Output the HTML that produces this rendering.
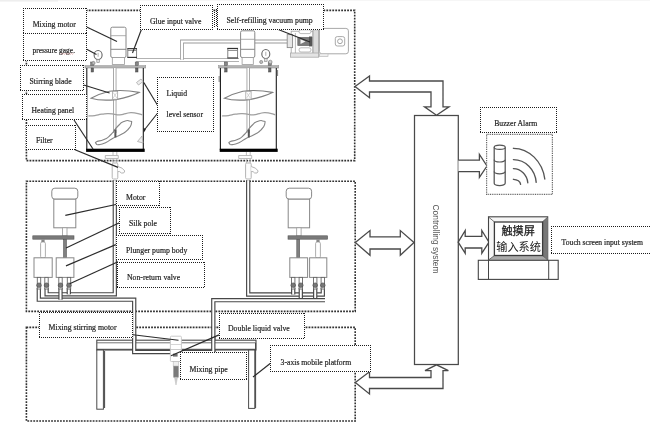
<!DOCTYPE html>
<html lang="en">
<head>
<meta charset="utf-8">
<title>Glue dispensing system diagram</title>
<style>
html,body{margin:0;padding:0;background:#fff;}
body{width:650px;height:425px;overflow:hidden;position:relative;}
svg{display:block;position:absolute;left:0;top:0;}
.ts{font-family:"Liberation Serif",serif;}
.tn{font-family:"Liberation Sans",sans-serif;}
.tc{font-family:"Liberation Sans","Noto Sans CJK SC",sans-serif;}
</style>
</head>
<body>
<svg width="650" height="425" viewBox="0 0 650 425">
<rect x="0" y="0" width="650" height="425" fill="#ffffff"/>
<defs><filter id="soft" x="-2%" y="-2%" width="104%" height="104%"><feGaussianBlur stdDeviation="0.55"/></filter></defs>
<g filter="url(#soft)">
<rect x="26.4" y="10.4" width="328.3" height="150.2" fill="none" stroke="#303030" stroke-width="1.6" stroke-dasharray="1.8 1.17"/>
<rect x="26.4" y="181.2" width="328.8" height="130.2" fill="none" stroke="#303030" stroke-width="1.6" stroke-dasharray="1.8 1.17"/>
<rect x="26.4" y="327.4" width="328.8" height="93.6" fill="none" stroke="#303030" stroke-width="1.6" stroke-dasharray="1.8 1.17"/>
<path d="M136 59.8 H239" fill="none" stroke="#999" stroke-width="3.8" stroke-linejoin="miter"/>
<path d="M136 59.8 H239" fill="none" stroke="#fff" stroke-width="2.2" stroke-linejoin="miter"/>
<path d="M182 59.8 V41.5 H287" fill="none" stroke="#999" stroke-width="3.8" stroke-linejoin="miter"/>
<path d="M182 59.8 V41.5 H287" fill="none" stroke="#fff" stroke-width="2.2" stroke-linejoin="miter"/>
<rect x="85.0" y="65.7" width="60.7" height="2.3" rx="0" fill="#b4b4b4" stroke="#969696" stroke-width="0.6" />
<rect x="90.7" y="62" width="3.2" height="3.4" rx="0" fill="#888" stroke="#555" stroke-width="0.5" />
<rect x="91.1" y="68" width="2.4" height="4" rx="0" fill="#666" stroke="#444" stroke-width="0.5" />
<rect x="135.20000000000002" y="62" width="3.2" height="3.4" rx="0" fill="#888" stroke="#555" stroke-width="0.5" />
<rect x="135.60000000000002" y="68" width="2.4" height="4" rx="0" fill="#666" stroke="#444" stroke-width="0.5" />
<line x1="86.8" y1="68" x2="86.8" y2="150" stroke="#1a1a1a" stroke-width="1.1" />
<line x1="143.3" y1="68" x2="143.3" y2="150" stroke="#1a1a1a" stroke-width="1.1" />
<rect x="86.1" y="148.7" width="58.6" height="3.2" rx="0" fill="#050505" stroke="none" stroke-width="1" />
<path d="M114.8 68 V133" fill="none" stroke="#a0a0a0" stroke-width="3.4" stroke-linejoin="miter"/>
<path d="M114.8 68 V133" fill="none" stroke="#fff" stroke-width="1.6" stroke-linejoin="miter"/>
<path d="M91.0 98.2 Q99.8 93.5 109.5 91.2 Q123.8 89.5 139.1 92.4 Q130.8 96.5 116.0 99.6 Q100.8 101.2 91.0 98.2 Z" fill="none" stroke="#808080" stroke-width="1.1" />
<rect x="112.39999999999999" y="91.3" width="5.3" height="7.9" rx="0" fill="#fff" stroke="#999" stroke-width="0.7" />
<path d="M113.2 92.5 L116.8 98 M116.8 92.5 L113.2 98" fill="none" stroke="#bbb" stroke-width="0.6" />
<path d="M88.30 116.00 C90.47 115.87 90.30 116.20 94.80 115.60 C99.30 115.00 97.13 114.87 101.80 114.20 C106.47 113.53 104.47 113.53 108.80 113.60 C113.13 113.67 111.13 113.97 114.80 114.40 C118.47 114.83 116.13 115.17 119.80 114.90 C123.47 114.63 122.13 114.33 125.80 113.60 C129.47 112.87 127.13 112.77 130.80 112.70 C134.47 112.63 132.97 112.70 136.80 113.40 C140.63 114.10 140.47 114.33 142.30 114.80" fill="none" stroke="#a0a0a0" stroke-width="1.25" />
<path d="M97.00 141.50 C99.60 140.13 99.33 141.83 104.00 139.50 C108.67 137.17 106.33 139.00 111.00 134.50 C115.67 130.00 113.67 130.30 118.00 126.00 C122.33 121.70 120.13 123.27 124.00 121.60 C127.87 119.93 127.13 120.33 129.60 121.00 C132.07 121.67 131.93 120.77 131.40 123.60 C130.87 126.43 131.47 125.83 128.00 129.50 C124.53 133.17 126.00 131.70 121.00 134.60 C116.00 137.50 118.00 135.60 113.00 138.20 C108.00 140.80 110.67 140.27 106.00 142.40 C101.33 144.53 102.27 144.20 99.00 144.60 C95.73 145.00 96.87 144.63 96.20 143.60 C95.53 142.57 94.40 142.87 97.00 141.50 Z" fill="none" stroke="#858585" stroke-width="1.1" />
<rect x="114.39999999999999" y="129.5" width="2.0" height="8.0" rx="0" fill="#555" stroke="none" stroke-width="1" />
<path d="M113.0 152 V163 M116.8 152 V163" fill="none" stroke="#b4b4b4" stroke-width="0.9" />
<path d="M105.3 155.5 H118.3 V158.5 H105.3 Z" fill="#fafafa" stroke="#b4b4b4" stroke-width="0.9" />
<rect x="112.2" y="163" width="5.6" height="16" rx="1.2" fill="#fdfdfd" stroke="#b4b4b4" stroke-width="1" />
<path d="M117.8 166.5 Q122.8 167.5 124.8 171 Q124.3 174 121.3 173 Q119.8 171 117.8 171.5" fill="#fdfdfd" stroke="#b4b4b4" stroke-width="1" />
<rect x="218.6" y="65.7" width="60.1" height="2.3" rx="0" fill="#b4b4b4" stroke="#969696" stroke-width="0.6" />
<rect x="224.3" y="62" width="3.2" height="3.4" rx="0" fill="#888" stroke="#555" stroke-width="0.5" />
<rect x="224.70000000000002" y="68" width="2.4" height="4" rx="0" fill="#666" stroke="#444" stroke-width="0.5" />
<rect x="268.2" y="62" width="3.2" height="3.4" rx="0" fill="#888" stroke="#555" stroke-width="0.5" />
<rect x="268.6" y="68" width="2.4" height="4" rx="0" fill="#666" stroke="#444" stroke-width="0.5" />
<line x1="220.4" y1="68" x2="220.4" y2="150" stroke="#1a1a1a" stroke-width="1.1" />
<line x1="276.3" y1="68" x2="276.3" y2="150" stroke="#1a1a1a" stroke-width="1.1" />
<rect x="219.70000000000002" y="148.7" width="58.0" height="3.2" rx="0" fill="#050505" stroke="none" stroke-width="1" />
<path d="M248.2 68 V133" fill="none" stroke="#a0a0a0" stroke-width="3.4" stroke-linejoin="miter"/>
<path d="M248.2 68 V133" fill="none" stroke="#fff" stroke-width="1.6" stroke-linejoin="miter"/>
<path d="M224.39999999999998 98.2 Q233.2 93.5 242.89999999999998 91.2 Q257.2 89.5 272.5 92.4 Q264.2 96.5 249.39999999999998 99.6 Q234.2 101.2 224.39999999999998 98.2 Z" fill="none" stroke="#808080" stroke-width="1.1" />
<rect x="245.79999999999998" y="91.3" width="5.3" height="7.9" rx="0" fill="#fff" stroke="#999" stroke-width="0.7" />
<path d="M246.6 92.5 L250.2 98 M250.2 92.5 L246.6 98" fill="none" stroke="#bbb" stroke-width="0.6" />
<path d="M221.90 116.00 C224.07 115.87 223.90 116.20 228.40 115.60 C232.90 115.00 230.73 114.87 235.40 114.20 C240.07 113.53 238.07 113.53 242.40 113.60 C246.73 113.67 244.73 113.97 248.40 114.40 C252.07 114.83 249.73 115.17 253.40 114.90 C257.07 114.63 255.73 114.33 259.40 113.60 C263.07 112.87 260.73 112.77 264.40 112.70 C268.07 112.63 266.77 112.70 270.40 113.40 C274.03 114.10 273.67 114.33 275.30 114.80" fill="none" stroke="#a0a0a0" stroke-width="1.25" />
<path d="M230.40 141.50 C233.00 140.13 232.73 141.83 237.40 139.50 C242.07 137.17 239.73 139.00 244.40 134.50 C249.07 130.00 247.07 130.30 251.40 126.00 C255.73 121.70 253.53 123.27 257.40 121.60 C261.27 119.93 260.53 120.33 263.00 121.00 C265.47 121.67 265.33 120.77 264.80 123.60 C264.27 126.43 264.87 125.83 261.40 129.50 C257.93 133.17 259.40 131.70 254.40 134.60 C249.40 137.50 251.40 135.60 246.40 138.20 C241.40 140.80 244.07 140.27 239.40 142.40 C234.73 144.53 235.67 144.20 232.40 144.60 C229.13 145.00 230.27 144.63 229.60 143.60 C228.93 142.57 227.80 142.87 230.40 141.50 Z" fill="none" stroke="#858585" stroke-width="1.1" />
<rect x="247.79999999999998" y="129.5" width="2.0" height="8.0" rx="0" fill="#555" stroke="none" stroke-width="1" />
<path d="M246.39999999999998 152 V163 M250.2 152 V163" fill="none" stroke="#b4b4b4" stroke-width="0.9" />
<path d="M238.7 155.5 H251.7 V158.5 H238.7 Z" fill="#fafafa" stroke="#b4b4b4" stroke-width="0.9" />
<rect x="245.6" y="163" width="5.6" height="16" rx="1.2" fill="#fdfdfd" stroke="#b4b4b4" stroke-width="1" />
<path d="M251.2 166.5 Q256.2 167.5 258.2 171 Q257.7 174 254.7 173 Q253.2 171 251.2 171.5" fill="#fdfdfd" stroke="#b4b4b4" stroke-width="1" />
<path d="M141 79 L143 81.5 L138.5 85 L136.5 82.5 Z" fill="#eee" stroke="#aaa" stroke-width="0.8" />
<path d="M142 136 L143 143 L137.5 141.5 Z" fill="#eee" stroke="#aaa" stroke-width="0.8" />
<path d="M143.5 127.5 L145.8 129.5 L143.5 133 Z" fill="#222" stroke="none" stroke-width="1" />
<path d="M219.2 76 V82" fill="none" stroke="#888" stroke-width="1.2" />
<path d="M277.5 70 V76" fill="none" stroke="#888" stroke-width="1.2" />
<rect x="110.8" y="27.2" width="15.2" height="30.3" rx="1.5" fill="#fff" stroke="#888" stroke-width="1" />
<line x1="110.8" y1="35.7" x2="126" y2="35.7" stroke="#999" stroke-width="0.8" />
<line x1="110.8" y1="49.3" x2="126" y2="49.3" stroke="#888" stroke-width="1" />
<rect x="112.3" y="57.5" width="12.2" height="7.0" rx="0" fill="#fff" stroke="#999" stroke-width="0.8" />
<rect x="240.6" y="30.8" width="14.2" height="26.7" rx="1.5" fill="#fff" stroke="#888" stroke-width="1" />
<line x1="240.6" y1="39.3" x2="254.8" y2="39.3" stroke="#999" stroke-width="0.8" />
<line x1="240.6" y1="49.3" x2="254.8" y2="49.3" stroke="#888" stroke-width="1" />
<rect x="242.1" y="57.5" width="11.2" height="7.0" rx="0" fill="#fff" stroke="#999" stroke-width="0.8" />
<rect x="127.8" y="48.6" width="8.8" height="8.8" rx="0" fill="#fff" stroke="#777" stroke-width="0.9" />
<line x1="127.4" y1="48.7" x2="137" y2="48.7" stroke="#333" stroke-width="1.1" />
<line x1="127.4" y1="57.4" x2="137" y2="57.4" stroke="#333" stroke-width="1.1" />
<line x1="127.8" y1="50.5" x2="136.6" y2="50.5" stroke="#777" stroke-width="0.8" />
<rect x="227.8" y="48.4" width="9.8" height="9.6" rx="0" fill="#fff" stroke="#777" stroke-width="0.9" />
<line x1="227.4" y1="48.5" x2="238" y2="48.5" stroke="#333" stroke-width="1.2" />
<line x1="227.4" y1="58" x2="238" y2="58" stroke="#444" stroke-width="1" />
<line x1="228" y1="50.5" x2="237.4" y2="50.5" stroke="#777" stroke-width="0.8" />
<ellipse cx="98.1" cy="55" rx="4" ry="4.5" fill="#fff" stroke="#666" stroke-width="1.1"/>
<line x1="98.1" y1="52.8" x2="98.1" y2="56.8" stroke="#999" stroke-width="0.8" />
<rect x="96.8" y="59.5" width="2.6" height="3.1" rx="0" fill="#ddd" stroke="#888" stroke-width="0.6" />
<circle cx="93.5" cy="63" r="1.6" fill="#bbb" stroke="#777" stroke-width="0.6"/>
<ellipse cx="265.8" cy="54" rx="4" ry="4.5" fill="#fff" stroke="#666" stroke-width="1.1"/>
<line x1="265.8" y1="51.8" x2="265.8" y2="55.8" stroke="#999" stroke-width="0.8" />
<rect x="264.5" y="58.5" width="2.6" height="3.1" rx="0" fill="#ddd" stroke="#888" stroke-width="0.6" />
<circle cx="261.2" cy="62" r="1.6" fill="#bbb" stroke="#777" stroke-width="0.6"/>
<circle cx="270.3" cy="62" r="1.8" fill="#ccc" stroke="#777" stroke-width="0.6"/>
<rect x="319.4" y="28.4" width="29.0" height="25.4" rx="2.5" fill="#fff" stroke="#a8a8a8" stroke-width="1" />
<rect x="335.3" y="36.6" width="9.4" height="9.4" rx="2" fill="#fff" stroke="#a0a0a0" stroke-width="0.9" />
<circle cx="340" cy="41.3" r="2.4" fill="none" stroke="#999" stroke-width="0.9"/>
<rect x="319.6" y="53.8" width="8.4" height="2.8" rx="0" fill="#eee" stroke="#bbb" stroke-width="0.7" />
<rect x="291.2" y="31.2" width="21.8" height="24.0" rx="0" fill="#fff" stroke="#aaa" stroke-width="0.9" />
<rect x="299" y="29.8" width="12" height="3.8" rx="1.9" fill="#fff" stroke="#aaa" stroke-width="0.8" />
<rect x="299" y="47.8" width="12" height="4.2" rx="2" fill="#fff" stroke="#aaa" stroke-width="0.8" />
<rect x="287.2" y="34.6" width="5.4" height="13.0" rx="0" fill="#e6e6e6" stroke="#8a8a8a" stroke-width="0.9" />
<line x1="295.4" y1="33" x2="295.4" y2="53" stroke="#aaa" stroke-width="0.8" />
<rect x="297.8" y="37.4" width="14.2" height="8.2" rx="0" fill="#7a7a7a" stroke="#666" stroke-width="0.7" />
<path d="M300.5 39.2 L305.5 41.5 L300.5 44 Z" fill="#f2f2f2" stroke="none" stroke-width="1" />
<rect x="309" y="36.5" width="3.2" height="9.9" rx="0" fill="#555" stroke="none" stroke-width="1" />
<rect x="313" y="29.8" width="5.7" height="26.8" rx="0" fill="#dcdcdc" stroke="#999" stroke-width="0.8" />
<rect x="290.5" y="53" width="28.2" height="4.2" rx="0" fill="#e4e4e4" stroke="#aaa" stroke-width="0.8" />
<path d="M114.8 180.3 V294.3 H46.6 V288" fill="none" stroke="#474747" stroke-width="4.3" stroke-linejoin="miter"/>
<path d="M114.8 180.3 V294.3 H46.6 V288" fill="none" stroke="#fff" stroke-width="2.0" stroke-linejoin="miter"/>
<path d="M68.8 288 V294.3" fill="none" stroke="#474747" stroke-width="4.3" stroke-linejoin="miter"/>
<path d="M68.8 288 V294.3" fill="none" stroke="#fff" stroke-width="2.0" stroke-linejoin="miter"/>
<path d="M38.8 288 V299.7 H134.2 V352.1" fill="none" stroke="#474747" stroke-width="4.3" stroke-linejoin="miter"/>
<path d="M38.8 288 V299.7 H134.2 V352.1" fill="none" stroke="#fff" stroke-width="2.0" stroke-linejoin="miter"/>
<path d="M60.5 288 V299.7" fill="none" stroke="#474747" stroke-width="4.3" stroke-linejoin="miter"/>
<path d="M60.5 288 V299.7" fill="none" stroke="#fff" stroke-width="2.0" stroke-linejoin="miter"/>
<path d="M248.2 180.3 V294.5 H322.8 V288" fill="none" stroke="#474747" stroke-width="4.3" stroke-linejoin="miter"/>
<path d="M248.2 180.3 V294.5 H322.8 V288" fill="none" stroke="#fff" stroke-width="2.0" stroke-linejoin="miter"/>
<path d="M293.2 288 V294.5" fill="none" stroke="#474747" stroke-width="4.3" stroke-linejoin="miter"/>
<path d="M293.2 288 V294.5" fill="none" stroke="#fff" stroke-width="2.0" stroke-linejoin="miter"/>
<path d="M300.8 288 V300.2" fill="none" stroke="#474747" stroke-width="4.3" stroke-linejoin="miter"/>
<path d="M300.8 288 V300.2" fill="none" stroke="#fff" stroke-width="2.0" stroke-linejoin="miter"/>
<path d="M315.2 288 V300.2" fill="none" stroke="#474747" stroke-width="4.3" stroke-linejoin="miter"/>
<path d="M315.2 288 V300.2" fill="none" stroke="#fff" stroke-width="2.0" stroke-linejoin="miter"/>
<path d="M325 300.2 H213.3 V352.1" fill="none" stroke="#474747" stroke-width="4.3" stroke-linejoin="miter"/>
<path d="M325 300.2 H213.3 V352.1" fill="none" stroke="#fff" stroke-width="2.0" stroke-linejoin="miter"/>
<rect x="51.8" y="188.2" width="26.0" height="11.0" rx="3" fill="#fff" stroke="#888" stroke-width="1" />
<rect x="53.8" y="199.2" width="22.0" height="28.6" rx="0" fill="#fff" stroke="#888" stroke-width="1" />
<rect x="62.599999999999994" y="227.79999999999998" width="4.4" height="8.2" rx="0" fill="#fff" stroke="#999" stroke-width="0.8" />
<rect x="32.8" y="235.8" width="41.2" height="3.4" rx="0" fill="#7a7a7a" stroke="#555" stroke-width="0.6" />
<rect x="63.6" y="239.4" width="2.8" height="18.6" rx="0" fill="#808080" stroke="#505050" stroke-width="0.6" />
<rect x="40.6" y="242" width="4.8" height="16" rx="1.5" fill="#fff" stroke="#999" stroke-width="0.8" />
<rect x="41.4" y="239.4" width="3.2" height="2.6" rx="0" fill="#888" stroke="none" stroke-width="1" />
<rect x="34" y="257.8" width="18.2" height="19.6" rx="0" fill="#fff" stroke="#888" stroke-width="1" />
<rect x="56.2" y="257.8" width="17.7" height="19.6" rx="0" fill="#fff" stroke="#888" stroke-width="1" />
<rect x="37.3" y="277.4" width="3.4" height="11.6" rx="0" fill="#fff" stroke="#666" stroke-width="0.9" />
<circle cx="39" cy="285.2" r="2.3" fill="#777" stroke="#444" stroke-width="0.6"/>
<rect x="44.8" y="277.4" width="3.4" height="11.6" rx="0" fill="#fff" stroke="#666" stroke-width="0.9" />
<circle cx="46.5" cy="285.2" r="2.3" fill="#777" stroke="#444" stroke-width="0.6"/>
<rect x="58.8" y="277.4" width="3.4" height="11.6" rx="0" fill="#fff" stroke="#666" stroke-width="0.9" />
<circle cx="60.5" cy="285.2" r="2.3" fill="#777" stroke="#444" stroke-width="0.6"/>
<rect x="67.3" y="277.4" width="3.4" height="11.6" rx="0" fill="#fff" stroke="#666" stroke-width="0.9" />
<circle cx="69" cy="285.2" r="2.3" fill="#777" stroke="#444" stroke-width="0.6"/>
<rect x="286.2" y="188.2" width="25.4" height="11.0" rx="3" fill="#fff" stroke="#888" stroke-width="1" />
<rect x="288.2" y="199.2" width="21.4" height="28.6" rx="0" fill="#fff" stroke="#888" stroke-width="1" />
<rect x="296.7" y="227.79999999999998" width="4.4" height="8.2" rx="0" fill="#fff" stroke="#999" stroke-width="0.8" />
<rect x="288" y="235.8" width="39.6" height="3.4" rx="0" fill="#7a7a7a" stroke="#555" stroke-width="0.6" />
<rect x="296.8" y="239.4" width="2.8" height="18.6" rx="0" fill="#808080" stroke="#505050" stroke-width="0.6" />
<rect x="315.6" y="242" width="4.8" height="16" rx="1.5" fill="#fff" stroke="#999" stroke-width="0.8" />
<rect x="316.4" y="239.4" width="3.2" height="2.6" rx="0" fill="#888" stroke="none" stroke-width="1" />
<rect x="289.8" y="257.8" width="17.8" height="19.6" rx="0" fill="#fff" stroke="#888" stroke-width="1" />
<rect x="309.6" y="257.8" width="17.2" height="19.6" rx="0" fill="#fff" stroke="#888" stroke-width="1" />
<rect x="291.5" y="277.4" width="3.4" height="11.6" rx="0" fill="#fff" stroke="#666" stroke-width="0.9" />
<circle cx="293.2" cy="285.2" r="2.3" fill="#777" stroke="#444" stroke-width="0.6"/>
<rect x="299.1" y="277.4" width="3.4" height="11.6" rx="0" fill="#fff" stroke="#666" stroke-width="0.9" />
<circle cx="300.8" cy="285.2" r="2.3" fill="#777" stroke="#444" stroke-width="0.6"/>
<rect x="313.5" y="277.4" width="3.4" height="11.6" rx="0" fill="#fff" stroke="#666" stroke-width="0.9" />
<circle cx="315.2" cy="285.2" r="2.3" fill="#777" stroke="#444" stroke-width="0.6"/>
<rect x="321.1" y="277.4" width="3.4" height="11.6" rx="0" fill="#fff" stroke="#666" stroke-width="0.9" />
<circle cx="322.8" cy="285.2" r="2.3" fill="#777" stroke="#444" stroke-width="0.6"/>
<rect x="96.8" y="340.2" width="159.2" height="9.8" rx="0" fill="#fff" stroke="#4a4a4a" stroke-width="1.1" />
<line x1="96.8" y1="342.8" x2="256" y2="342.8" stroke="#666" stroke-width="0.9" />
<line x1="96.8" y1="349.3" x2="256" y2="349.3" stroke="#444" stroke-width="1" />
<rect x="96.8" y="350" width="6.6" height="59.2" rx="0" fill="#fff" stroke="#4a4a4a" stroke-width="1" />
<line x1="104.6" y1="351" x2="104.6" y2="408" stroke="#444" stroke-width="1" />
<rect x="248.6" y="350" width="6.2" height="58.4" rx="0" fill="#fff" stroke="#4a4a4a" stroke-width="1" />
<line x1="255.6" y1="343" x2="255.6" y2="408" stroke="#444" stroke-width="1" />
<path d="M134.2 336 V352.1 H213.3 V336" fill="none" stroke="#474747" stroke-width="4.3" stroke-linejoin="miter"/>
<path d="M134.2 336 V352.1 H213.3 V336" fill="none" stroke="#fff" stroke-width="2.0" stroke-linejoin="miter"/>
<rect x="170.4" y="336.2" width="11.0" height="25.3" rx="1" fill="#fff" stroke="#c4c4c4" stroke-width="0.9" />
<line x1="170.4" y1="344.5" x2="181.4" y2="344.5" stroke="#ccc" stroke-width="0.8" />
<line x1="170.4" y1="349.5" x2="181.4" y2="349.5" stroke="#bbb" stroke-width="0.8" />
<rect x="173" y="353.6" width="4.6" height="3.0" rx="0" fill="#707070" stroke="none" stroke-width="1" />
<rect x="173.2" y="361.5" width="5.4" height="4.5" rx="0" fill="#eee" stroke="#bbb" stroke-width="0.6" />
<rect x="173.8" y="366.5" width="4.4" height="10.8" rx="0" fill="#7a7a7a" stroke="#666" stroke-width="0.5" />
<path d="M174.5 377.3 L176 385 L177.5 377.3 Z" fill="#ccc" stroke="#bbb" stroke-width="0.5" />
<rect x="414.5" y="115.5" width="43.8" height="249.0" rx="0" fill="#fff" stroke="#4a4a4a" stroke-width="1.25" />
<text class="tn" transform="translate(432.8 204.5) rotate(90)" font-size="8.4" textLength="69" lengthAdjust="spacingAndGlyphs" fill="#555">Controlling system</text>
<path d="M355 86.5 L369.5 76 V81 H443 V106.8 H449 L436.5 115.3 L424.5 106.8 H431 V92 H369.5 V97.7 Z" fill="#fff" stroke="#4a4a4a" stroke-width="1.3" stroke-linejoin="miter"/>
<path d="M355.3 242.6 L370 230.6 V236.8 H400.3 V230.6 L414 242.6 L400.3 255.3 V249 H370 V255.3 Z" fill="#fff" stroke="#4a4a4a" stroke-width="1.3" stroke-linejoin="miter"/>
<path d="M458.2 242.2 L465.2 230.5 V236.4 H481.8 V230.5 L489 242.2 L481.8 253.3 V248 H465.2 V253.3 Z" fill="#fff" stroke="#4a4a4a" stroke-width="1.3" stroke-linejoin="miter"/>
<path d="M458.4 160.2 H479.4 V154.5 L487 166 L479.4 177.4 V171.6 H458.4" fill="#fff" stroke="#4a4a4a" stroke-width="1.3" stroke-linejoin="miter"/>
<path d="M355.3 382.4 L369.5 371.8 V377.5 H431 V370.6 H425 L436.5 364.8 L448.4 370.6 H443 V388.5 H369.5 V394 Z" fill="#fff" stroke="#4a4a4a" stroke-width="1.3" stroke-linejoin="miter"/>
<rect x="486.6" y="134.3" width="65.8" height="60" fill="#fff" stroke="#686868" stroke-width="1.2" stroke-dasharray="1 0.8"/>
<path d="M494.2 147.3 V183.3 A5.5 2.2 0 0 0 505.2 183.3 V147.3" fill="#fff" stroke="#555" stroke-width="1.25" />
<ellipse cx="499.7" cy="147.3" rx="5.5" ry="2.1" fill="#fff" stroke="#555" stroke-width="1.2"/>
<path d="M494.2 159.8 A5.5 2.2 0 0 0 505.2 159.8 M494.2 171.6 A5.5 2.2 0 0 0 505.2 171.6" fill="none" stroke="#555" stroke-width="1.2" />
<path d="M513.4 148.3 A32 36 0 0 1 544.8 179" fill="none" stroke="#555" stroke-width="1.35" stroke-linecap="round"/>
<path d="M513.4 159.6 A22.9 24.7 0 0 1 536.2 182.4" fill="none" stroke="#555" stroke-width="1.35" stroke-linecap="round"/>
<path d="M513.4 168.6 A14.6 15.7 0 0 1 527.8 182.8" fill="none" stroke="#555" stroke-width="1.35" stroke-linecap="round"/>
<path d="M513.4 179.3 A7.4 5.4 0 0 1 520.6 184.4" fill="none" stroke="#555" stroke-width="1.35" stroke-linecap="round"/>
<rect x="488.5" y="216.8" width="59.2" height="43.2" rx="0" fill="#f6f6f6" stroke="#444" stroke-width="1.1" />
<path d="M542.3 222 L547.8 217 V260 L542.3 255.5 Z" fill="#777" stroke="none" stroke-width="1" />
<path d="M494.5 255.5 H542.3 L547.8 260 H488.5 Z" fill="#aaa" stroke="none" stroke-width="1" />
<path d="M488.5 217 L494.5 222 M547.8 217 L542.3 222 M488.5 260 L494.5 255.5 M547.8 260 L542.3 255.5" fill="none" stroke="#555" stroke-width="0.8" />
<rect x="494.4" y="222" width="48.2" height="33.5" rx="0" fill="#fff" stroke="#3a3a3a" stroke-width="1.3" />
<rect x="478.3" y="260.3" width="79.9" height="19.1" rx="0" fill="#fff" stroke="#444" stroke-width="1.1" />
<line x1="488.5" y1="260" x2="488.5" y2="279.4" stroke="#444" stroke-width="1" />
<line x1="548.7" y1="260" x2="548.7" y2="279.4" stroke="#444" stroke-width="1" />
<text class="tc" x="518.2" y="235" font-size="11.2" text-anchor="middle" fill="#222" stroke="#222" stroke-width="0.25">触摸屏</text>
<text class="tc" x="518.6" y="251" font-size="11.2" text-anchor="middle" fill="#222">输入系统</text>
<line x1="212.5" y1="9" x2="212.5" y2="27" stroke="#1a1a1a" stroke-width="1" stroke-dasharray="1 1"/>
<line x1="214.5" y1="10" x2="214.5" y2="27" stroke="#1a1a1a" stroke-width="1" stroke-dasharray="1 1"/>
<line x1="216.5" y1="9" x2="216.5" y2="27" stroke="#1a1a1a" stroke-width="1" stroke-dasharray="1 1"/>
<rect x="0" y="0" width="650" height="1" fill="#f6f6f6"/>
<rect x="0" y="0" width="58" height="1.6" fill="#eeeeee"/>
<line x1="86.7" y1="27" x2="117" y2="41.4" stroke="#2a2a2a" stroke-width="1.15" />
<line x1="86.7" y1="49.3" x2="96.5" y2="54.5" stroke="#2a2a2a" stroke-width="1.15" />
<line x1="83.7" y1="85" x2="109.6" y2="93" stroke="#2a2a2a" stroke-width="1.15" />
<line x1="74" y1="120" x2="93" y2="149" stroke="#2a2a2a" stroke-width="1.15" />
<line x1="75" y1="149.7" x2="118" y2="167.4" stroke="#2a2a2a" stroke-width="1.15" />
<line x1="141.6" y1="29" x2="132.5" y2="53" stroke="#2a2a2a" stroke-width="1.15" />
<line x1="277" y1="29" x2="310" y2="42" stroke="#2a2a2a" stroke-width="1.15" />
<line x1="157.7" y1="105.5" x2="143.8" y2="82.5" stroke="#2a2a2a" stroke-width="1.15" />
<line x1="157.7" y1="113" x2="144.3" y2="130" stroke="#2a2a2a" stroke-width="1.15" />
<line x1="117" y1="204.3" x2="65.3" y2="215.4" stroke="#2a2a2a" stroke-width="1.15" />
<line x1="119.4" y1="222.8" x2="66" y2="248" stroke="#2a2a2a" stroke-width="1.15" />
<line x1="115.8" y1="244.6" x2="66" y2="265.9" stroke="#2a2a2a" stroke-width="1.15" />
<line x1="118" y1="261.7" x2="69.7" y2="283.8" stroke="#2a2a2a" stroke-width="1.15" />
<line x1="133" y1="334.8" x2="178.5" y2="340.3" stroke="#2a2a2a" stroke-width="1.15" />
<line x1="219" y1="334.9" x2="171" y2="355.8" stroke="#2a2a2a" stroke-width="1.15" />
<line x1="270.8" y1="363" x2="253" y2="377" stroke="#2a2a2a" stroke-width="1.15" />
<rect x="23" y="8" width="64" height="26" fill="#fff" stroke="none"/>
<line x1="23" y1="8.5" x2="87" y2="8.5" stroke="#1a1a1a" stroke-width="1" stroke-dasharray="1 1"/>
<line x1="23" y1="33.5" x2="87" y2="33.5" stroke="#1a1a1a" stroke-width="1" stroke-dasharray="1 1"/>
<line x1="23.5" y1="8" x2="23.5" y2="34" stroke="#1a1a1a" stroke-width="1" stroke-dasharray="1 1"/>
<line x1="86.5" y1="8" x2="86.5" y2="34" stroke="#1a1a1a" stroke-width="1" stroke-dasharray="1 1"/>
<text class="ts" x="32.7" y="26.8" font-size="7.8" textLength="43.2" lengthAdjust="spacingAndGlyphs" fill="#222" stroke="#222" stroke-width="0.18" >Mixing motor</text>
<rect x="23" y="33" width="64" height="28" fill="#fff" stroke="none"/>
<line x1="23" y1="33.5" x2="87" y2="33.5" stroke="#1a1a1a" stroke-width="1" stroke-dasharray="1 1"/>
<line x1="23" y1="60.5" x2="87" y2="60.5" stroke="#1a1a1a" stroke-width="1" stroke-dasharray="1 1"/>
<line x1="23.5" y1="33" x2="23.5" y2="61" stroke="#1a1a1a" stroke-width="1" stroke-dasharray="1 1"/>
<line x1="86.5" y1="33" x2="86.5" y2="61" stroke="#1a1a1a" stroke-width="1" stroke-dasharray="1 1"/>
<text class="ts" x="32.5" y="52.8" font-size="7.8" textLength="42.5" lengthAdjust="spacingAndGlyphs" fill="#222" stroke="#222" stroke-width="0.18" >pressure gage.</text>
<path d="M60.5 54.2 l1 -0.8 l1 0.8 l1 -0.8 l1 0.8 l1 -0.8 l1 0.8 l1 -0.8 l1 0.8 l1 -0.8 l1 0.8 l1 -0.8 l1 0.8 l1 -0.8" fill="none" stroke="#c88" stroke-width="0.6" />
<rect x="20" y="65" width="64" height="26" fill="#fff" stroke="none"/>
<line x1="20" y1="65.5" x2="84" y2="65.5" stroke="#1a1a1a" stroke-width="1" stroke-dasharray="1 1"/>
<line x1="20" y1="90.5" x2="84" y2="90.5" stroke="#1a1a1a" stroke-width="1" stroke-dasharray="1 1"/>
<line x1="20.5" y1="65" x2="20.5" y2="91" stroke="#1a1a1a" stroke-width="1" stroke-dasharray="1 1"/>
<line x1="83.5" y1="65" x2="83.5" y2="91" stroke="#1a1a1a" stroke-width="1" stroke-dasharray="1 1"/>
<text class="ts" x="29.6" y="83.6" font-size="7.8" textLength="42" lengthAdjust="spacingAndGlyphs" fill="#222" stroke="#222" stroke-width="0.18" >Stirring blade</text>
<rect x="22" y="94" width="65" height="26" fill="#fff" stroke="none"/>
<line x1="22" y1="94.5" x2="87" y2="94.5" stroke="#1a1a1a" stroke-width="1" stroke-dasharray="1 1"/>
<line x1="22" y1="119.5" x2="87" y2="119.5" stroke="#1a1a1a" stroke-width="1" stroke-dasharray="1 1"/>
<line x1="22.5" y1="94" x2="22.5" y2="120" stroke="#1a1a1a" stroke-width="1" stroke-dasharray="1 1"/>
<line x1="86.5" y1="94" x2="86.5" y2="120" stroke="#1a1a1a" stroke-width="1" stroke-dasharray="1 1"/>
<text class="ts" x="31.6" y="113" font-size="7.8" textLength="42.6" lengthAdjust="spacingAndGlyphs" fill="#222" stroke="#222" stroke-width="0.18" >Heating panel</text>
<rect x="26" y="125" width="50" height="25" fill="#fff" stroke="none"/>
<line x1="26" y1="125.5" x2="76" y2="125.5" stroke="#1a1a1a" stroke-width="1" stroke-dasharray="1 1"/>
<line x1="26" y1="149.5" x2="76" y2="149.5" stroke="#1a1a1a" stroke-width="1" stroke-dasharray="1 1"/>
<line x1="26.5" y1="125" x2="26.5" y2="150" stroke="#1a1a1a" stroke-width="1" stroke-dasharray="1 1"/>
<line x1="75.5" y1="125" x2="75.5" y2="150" stroke="#1a1a1a" stroke-width="1" stroke-dasharray="1 1"/>
<text class="ts" x="36" y="143" font-size="7.8" textLength="16.6" lengthAdjust="spacingAndGlyphs" fill="#222" stroke="#222" stroke-width="0.18" >Filter</text>
<rect x="140" y="5" width="73" height="25" fill="#fff" stroke="none"/>
<line x1="140" y1="5.5" x2="213" y2="5.5" stroke="#1a1a1a" stroke-width="1" stroke-dasharray="1 1"/>
<line x1="140" y1="29.5" x2="213" y2="29.5" stroke="#1a1a1a" stroke-width="1" stroke-dasharray="1 1"/>
<line x1="140.5" y1="5" x2="140.5" y2="30" stroke="#1a1a1a" stroke-width="1" stroke-dasharray="1 1"/>
<line x1="212.5" y1="5" x2="212.5" y2="30" stroke="#1a1a1a" stroke-width="1" stroke-dasharray="1 1"/>
<text class="ts" x="150" y="23.6" font-size="7.8" textLength="51.4" lengthAdjust="spacingAndGlyphs" fill="#222" stroke="#222" stroke-width="0.18" >Glue input valve</text>
<rect x="217" y="4" width="107" height="26" fill="#fff" stroke="none"/>
<line x1="217" y1="4.5" x2="324" y2="4.5" stroke="#1a1a1a" stroke-width="1" stroke-dasharray="1 1"/>
<line x1="217" y1="29.5" x2="324" y2="29.5" stroke="#1a1a1a" stroke-width="1" stroke-dasharray="1 1"/>
<line x1="217.5" y1="4" x2="217.5" y2="30" stroke="#1a1a1a" stroke-width="1" stroke-dasharray="1 1"/>
<line x1="323.5" y1="4" x2="323.5" y2="30" stroke="#1a1a1a" stroke-width="1" stroke-dasharray="1 1"/>
<text class="ts" x="226.5" y="22.8" font-size="7.8" textLength="86.2" lengthAdjust="spacingAndGlyphs" fill="#222" stroke="#222" stroke-width="0.18" >Self-refilling vacuum pump</text>
<rect x="157" y="77" width="57" height="55" fill="#fff" stroke="none"/>
<line x1="157" y1="77.5" x2="214" y2="77.5" stroke="#1a1a1a" stroke-width="1" stroke-dasharray="1 1"/>
<line x1="157" y1="131.5" x2="214" y2="131.5" stroke="#1a1a1a" stroke-width="1" stroke-dasharray="1 1"/>
<line x1="157.5" y1="77" x2="157.5" y2="132" stroke="#1a1a1a" stroke-width="1" stroke-dasharray="1 1"/>
<line x1="213.5" y1="77" x2="213.5" y2="132" stroke="#1a1a1a" stroke-width="1" stroke-dasharray="1 1"/>
<text class="ts" x="166.5" y="95.6" font-size="7.8" textLength="20.6" lengthAdjust="spacingAndGlyphs" fill="#222" stroke="#222" stroke-width="0.18" >Liquid</text>
<text class="ts" x="166.5" y="117.3" font-size="7.8" textLength="36.5" lengthAdjust="spacingAndGlyphs" fill="#222" stroke="#222" stroke-width="0.18" >level sensor</text>
<rect x="116" y="181" width="44" height="25" fill="#fff" stroke="none"/>
<line x1="116" y1="181.5" x2="160" y2="181.5" stroke="#1a1a1a" stroke-width="1" stroke-dasharray="1 1"/>
<line x1="116" y1="205.5" x2="160" y2="205.5" stroke="#1a1a1a" stroke-width="1" stroke-dasharray="1 1"/>
<line x1="116.5" y1="181" x2="116.5" y2="206" stroke="#1a1a1a" stroke-width="1" stroke-dasharray="1 1"/>
<line x1="159.5" y1="181" x2="159.5" y2="206" stroke="#1a1a1a" stroke-width="1" stroke-dasharray="1 1"/>
<text class="ts" x="126" y="200.3" font-size="7.8" textLength="19.4" lengthAdjust="spacingAndGlyphs" fill="#222" stroke="#222" stroke-width="0.18" >Motor</text>
<rect x="119" y="207" width="52" height="27" fill="#fff" stroke="none"/>
<line x1="119" y1="207.5" x2="171" y2="207.5" stroke="#1a1a1a" stroke-width="1" stroke-dasharray="1 1"/>
<line x1="119" y1="233.5" x2="171" y2="233.5" stroke="#1a1a1a" stroke-width="1" stroke-dasharray="1 1"/>
<line x1="119.5" y1="207" x2="119.5" y2="234" stroke="#1a1a1a" stroke-width="1" stroke-dasharray="1 1"/>
<line x1="170.5" y1="207" x2="170.5" y2="234" stroke="#1a1a1a" stroke-width="1" stroke-dasharray="1 1"/>
<text class="ts" x="129" y="226.2" font-size="7.8" textLength="28" lengthAdjust="spacingAndGlyphs" fill="#222" stroke="#222" stroke-width="0.18" >Silk pole</text>
<rect x="116" y="235" width="87" height="25" fill="#fff" stroke="none"/>
<line x1="116" y1="235.5" x2="203" y2="235.5" stroke="#1a1a1a" stroke-width="1" stroke-dasharray="1 1"/>
<line x1="116" y1="259.5" x2="203" y2="259.5" stroke="#1a1a1a" stroke-width="1" stroke-dasharray="1 1"/>
<line x1="116.5" y1="235" x2="116.5" y2="260" stroke="#1a1a1a" stroke-width="1" stroke-dasharray="1 1"/>
<line x1="202.5" y1="235" x2="202.5" y2="260" stroke="#1a1a1a" stroke-width="1" stroke-dasharray="1 1"/>
<text class="ts" x="126" y="253" font-size="7.8" textLength="61.3" lengthAdjust="spacingAndGlyphs" fill="#222" stroke="#222" stroke-width="0.18" >Plunger pump body</text>
<rect x="117" y="262" width="88" height="26" fill="#fff" stroke="none"/>
<line x1="117" y1="262.5" x2="205" y2="262.5" stroke="#1a1a1a" stroke-width="1" stroke-dasharray="1 1"/>
<line x1="117" y1="287.5" x2="205" y2="287.5" stroke="#1a1a1a" stroke-width="1" stroke-dasharray="1 1"/>
<line x1="117.5" y1="262" x2="117.5" y2="288" stroke="#1a1a1a" stroke-width="1" stroke-dasharray="1 1"/>
<line x1="204.5" y1="262" x2="204.5" y2="288" stroke="#1a1a1a" stroke-width="1" stroke-dasharray="1 1"/>
<text class="ts" x="127" y="280" font-size="7.8" textLength="53.2" lengthAdjust="spacingAndGlyphs" fill="#222" stroke="#222" stroke-width="0.18" >Non-return valve</text>
<rect x="39" y="312" width="94" height="26" fill="#fff" stroke="none"/>
<line x1="39" y1="312.5" x2="133" y2="312.5" stroke="#1a1a1a" stroke-width="1" stroke-dasharray="1 1"/>
<line x1="39" y1="337.5" x2="133" y2="337.5" stroke="#1a1a1a" stroke-width="1" stroke-dasharray="1 1"/>
<line x1="39.5" y1="312" x2="39.5" y2="338" stroke="#1a1a1a" stroke-width="1" stroke-dasharray="1 1"/>
<line x1="132.5" y1="312" x2="132.5" y2="338" stroke="#1a1a1a" stroke-width="1" stroke-dasharray="1 1"/>
<text class="ts" x="48.6" y="329.6" font-size="7.8" textLength="68" lengthAdjust="spacingAndGlyphs" fill="#222" stroke="#222" stroke-width="0.18" >Mixing stirring motor</text>
<rect x="219" y="313" width="86" height="26" fill="#fff" stroke="none"/>
<line x1="219" y1="313.5" x2="305" y2="313.5" stroke="#1a1a1a" stroke-width="1" stroke-dasharray="1 1"/>
<line x1="219" y1="338.5" x2="305" y2="338.5" stroke="#1a1a1a" stroke-width="1" stroke-dasharray="1 1"/>
<line x1="219.5" y1="313" x2="219.5" y2="339" stroke="#1a1a1a" stroke-width="1" stroke-dasharray="1 1"/>
<line x1="304.5" y1="313" x2="304.5" y2="339" stroke="#1a1a1a" stroke-width="1" stroke-dasharray="1 1"/>
<text class="ts" x="228" y="330.6" font-size="7.8" textLength="61.8" lengthAdjust="spacingAndGlyphs" fill="#222" stroke="#222" stroke-width="0.18" >Double liquid valve</text>
<rect x="180" y="352" width="67" height="28" fill="#fff" stroke="none"/>
<line x1="180" y1="352.5" x2="247" y2="352.5" stroke="#1a1a1a" stroke-width="1" stroke-dasharray="1 1"/>
<line x1="180" y1="379.5" x2="247" y2="379.5" stroke="#1a1a1a" stroke-width="1" stroke-dasharray="1 1"/>
<line x1="180.5" y1="352" x2="180.5" y2="380" stroke="#1a1a1a" stroke-width="1" stroke-dasharray="1 1"/>
<line x1="246.5" y1="352" x2="246.5" y2="380" stroke="#1a1a1a" stroke-width="1" stroke-dasharray="1 1"/>
<text class="ts" x="189.5" y="372" font-size="7.8" textLength="38.3" lengthAdjust="spacingAndGlyphs" fill="#222" stroke="#222" stroke-width="0.18" >Mixing pipe</text>
<rect x="270" y="345" width="101" height="27" fill="#fff" stroke="none"/>
<line x1="270" y1="345.5" x2="371" y2="345.5" stroke="#1a1a1a" stroke-width="1" stroke-dasharray="1 1"/>
<line x1="270" y1="371.5" x2="371" y2="371.5" stroke="#1a1a1a" stroke-width="1" stroke-dasharray="1 1"/>
<line x1="270.5" y1="345" x2="270.5" y2="372" stroke="#1a1a1a" stroke-width="1" stroke-dasharray="1 1"/>
<line x1="370.5" y1="345" x2="370.5" y2="372" stroke="#1a1a1a" stroke-width="1" stroke-dasharray="1 1"/>
<text class="ts" x="280.6" y="364.6" font-size="7.8" textLength="70.6" lengthAdjust="spacingAndGlyphs" fill="#222" stroke="#222" stroke-width="0.18" >3-axis mobile platform</text>
<rect x="480" y="107" width="77" height="26" fill="#fff" stroke="none"/>
<line x1="480" y1="107.5" x2="557" y2="107.5" stroke="#1a1a1a" stroke-width="1" stroke-dasharray="1 1"/>
<line x1="480" y1="132.5" x2="557" y2="132.5" stroke="#1a1a1a" stroke-width="1" stroke-dasharray="1 1"/>
<line x1="480.5" y1="107" x2="480.5" y2="133" stroke="#1a1a1a" stroke-width="1" stroke-dasharray="1 1"/>
<line x1="556.5" y1="107" x2="556.5" y2="133" stroke="#1a1a1a" stroke-width="1" stroke-dasharray="1 1"/>
<text class="ts" x="494.2" y="125.6" font-size="7.8" textLength="43" lengthAdjust="spacingAndGlyphs" fill="#222" stroke="#222" stroke-width="0.18" >Buzzer Alarm</text>
<rect x="551" y="226" width="110" height="28" fill="#fff" stroke="none"/>
<line x1="551" y1="226.5" x2="661" y2="226.5" stroke="#1a1a1a" stroke-width="1" stroke-dasharray="1 1"/>
<line x1="551" y1="253.5" x2="661" y2="253.5" stroke="#1a1a1a" stroke-width="1" stroke-dasharray="1 1"/>
<line x1="551.5" y1="226" x2="551.5" y2="254" stroke="#1a1a1a" stroke-width="1" stroke-dasharray="1 1"/>
<line x1="660.5" y1="226" x2="660.5" y2="254" stroke="#1a1a1a" stroke-width="1" stroke-dasharray="1 1"/>
<text class="ts" x="561.6" y="245.3" font-size="7.3" textLength="81.4" lengthAdjust="spacingAndGlyphs" fill="#222" stroke="#222" stroke-width="0.18" >Touch screen input system</text>
</g>
</svg>
</body>
</html>
